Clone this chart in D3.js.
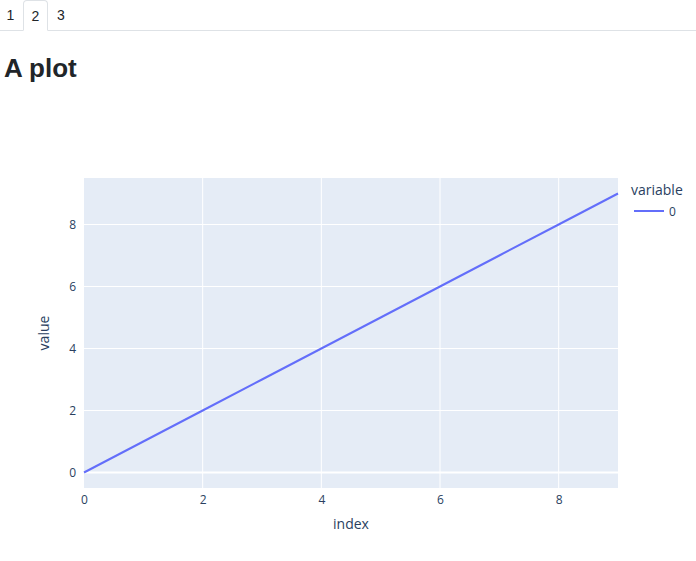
<!DOCTYPE html>
<html><head><meta charset="utf-8">
<script src="https://cdn.jsdelivr.net/npm/d3@7"></script>
<style>
body{margin:0;font-family:"Liberation Sans",Arial,sans-serif;background:#fff;}
.tabs{position:absolute;left:0;top:0;width:696px;height:30px;border-bottom:1px solid #dee2e6;}
.tab{position:absolute;top:0;height:30px;font-size:14px;line-height:30px;color:#212529;text-align:center;box-sizing:border-box;}
.tab.active{border:1px solid #dee2e6;border-bottom:1px solid #fff;border-radius:4px 4px 0 0;height:31px;}
h1{position:absolute;left:4px;top:53px;margin:0;font-size:26px;font-weight:bold;color:#212529;}
svg{position:absolute;left:0;top:0;}
</style></head>
<body>
<div class="tabs">
<div class="tab" style="left:0;width:21px">1</div>
<div class="tab active" style="left:23px;width:25px">2</div>
<div class="tab" style="left:48px;width:26px">3</div>
</div>
<h1>A plot</h1>
<svg id="chart" width="696" height="561"></svg>
<script>
const indexVals = [0,1,2,3,4,5,6,7,8,9];
const seriesVals = [0,1,2,3,4,5,6,7,8,9];
const xTicks = [0,2,4,6,8];
const yTicks = [0,2,4,6,8];
const seriesName = "0";

const svg = d3.select("#chart");
const L=84,R=618,T=178,B=488;
const x = d3.scaleLinear().domain([0,9]).range([L,R]);
const y = d3.scaleLinear().domain([-0.5,9.5]).range([B,T]);
const font = '"Open Sans", "Noto Sans", sans-serif';
const tc = "#2a3f5f";

svg.append("rect").attr("x",L).attr("y",T).attr("width",R-L).attr("height",B-T).attr("fill","#e5ecf6");
svg.append("g").selectAll("line").data(xTicks.filter(d=>d!==0)).join("line")
  .attr("x1",d=>x(d)).attr("x2",d=>x(d)).attr("y1",T).attr("y2",B).attr("stroke","#fff").attr("stroke-width",1);
svg.append("g").selectAll("line").data(yTicks).join("line")
  .attr("x1",L).attr("x2",R).attr("y1",d=>y(d)).attr("y2",d=>y(d)).attr("stroke","#fff").attr("stroke-width",d=>d===0?2:1);

const xAxis = svg.append("g").attr("transform",`translate(0,${B})`)
  .call(d3.axisBottom(x).tickValues(xTicks).tickSize(0).tickPadding(7));
const yAxis = svg.append("g").attr("transform",`translate(${L},0)`)
  .call(d3.axisLeft(y).tickValues(yTicks).tickSize(0).tickPadding(8));
[xAxis,yAxis].forEach(a=>{a.select(".domain").remove();a.selectAll("text").attr("fill",tc).style("font-family",font).style("font-size","12px");});

const line = d3.line().x((d,i)=>x(indexVals[i])).y(d=>y(d));
svg.append("path").datum(seriesVals).attr("d",line).attr("fill","none").attr("stroke","#636efa").attr("stroke-width",2);

svg.append("text").attr("x",(L+R)/2).attr("y",529).attr("text-anchor","middle")
  .attr("fill",tc).style("font-family",font).style("font-size","14px").text("index");
svg.append("text").attr("transform",`translate(49,${(T+B)/2}) rotate(-90)`).attr("text-anchor","middle")
  .attr("fill",tc).style("font-family",font).style("font-size","14px").text("value");

svg.append("text").attr("x",631).attr("y",195).attr("fill",tc).style("font-family",font).style("font-size","14px").text("variable");
svg.append("line").attr("x1",634).attr("x2",664).attr("y1",211).attr("y2",211).attr("stroke","#636efa").attr("stroke-width",2);
svg.append("text").attr("x",669).attr("y",215.5).attr("fill",tc).style("font-family",font).style("font-size","12px").text(seriesName);
</script>
</body></html>
